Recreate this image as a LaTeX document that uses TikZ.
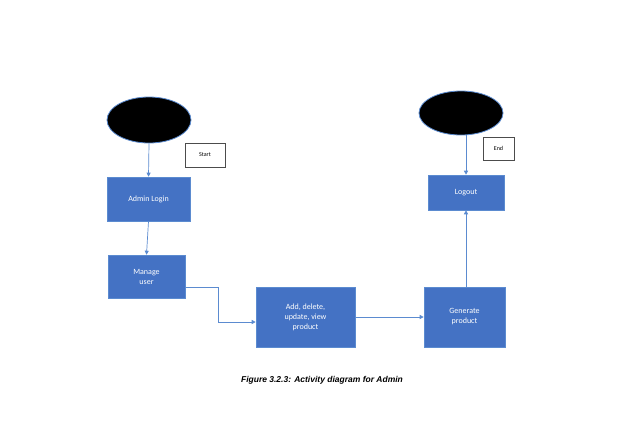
\documentclass[tikz,border=0pt]{standalone}
\usepackage{fontspec}
\setmainfont{Carlito}
\newfontfamily\capfont{Liberation Sans}
\usetikzlibrary{shapes.geometric,arrows.meta}
\definecolor{obox}{HTML}{4472C4}
\definecolor{oline}{HTML}{5B8BD0}
\tikzset{
  act/.style={draw=oline,fill=obox,text=white,font=\fontsize{8}{10}\selectfont,align=center,inner sep=0pt,line width=0.6pt},
  blob/.style={ellipse,draw=oline,fill=black,line width=0.8pt,inner sep=0pt},
  lbl/.style={draw=black!70,fill=white,font=\fontsize{6}{7}\selectfont,inner sep=0pt,line width=0.4pt},
  conn/.style={draw=oline,line width=0.7pt,-{Triangle[width=4pt,length=4pt]}}
}
\begin{document}
\begin{tikzpicture}[x=1pt,y=-1pt]
\useasboundingbox[fill=white] (0,0) rectangle (640,440);
\node[blob,minimum width=84pt,minimum height=46pt] (s) at (149,120) {};
\node[lbl,minimum width=40pt,minimum height=24pt] (st) at (205,155) {Start};
\node[act,minimum width=83pt,minimum height=44pt] (al) at (148.5,199) {Admin Login};
\node[act,minimum width=77pt,minimum height=43pt] (mu) at (146.5,276.5) {Manage\\user};
\node[act,minimum width=99pt,minimum height=60pt] (ad) at (305.5,317) {Add, delete,\\update, view\\product};
\node[act,minimum width=81pt,minimum height=60pt] (gp) at (464.5,317) {Generate\\product};
\node[act,minimum width=76pt,minimum height=35pt] (lo) at (466,192.5) {Logout};
\node[blob,minimum width=84pt,minimum height=44pt] (e) at (461,113) {};
\node[lbl,minimum width=31pt,minimum height=23pt] (en) at (498.5,148.5) {End};
\draw[conn] (s.south) -- (al.north);
\draw[conn] (al.south) -- (mu.north);
\draw[conn] (mu.east |- 0,287) -- (218,287) -- (218,322) -- (ad.west |- 0,322);
\draw[conn] (ad.east) -- (gp.west);
\draw[conn] (gp.north -| 466,0) -- (lo.south);
\draw[conn] (e.south -| 466,0) -- (lo.north);
\node[font=\capfont\bfseries\itshape\fontsize{8.5}{10}\selectfont] (cap) at (322,380) {Figure 3.2.3: Activity diagram for Admin};
\end{tikzpicture}
\end{document}
